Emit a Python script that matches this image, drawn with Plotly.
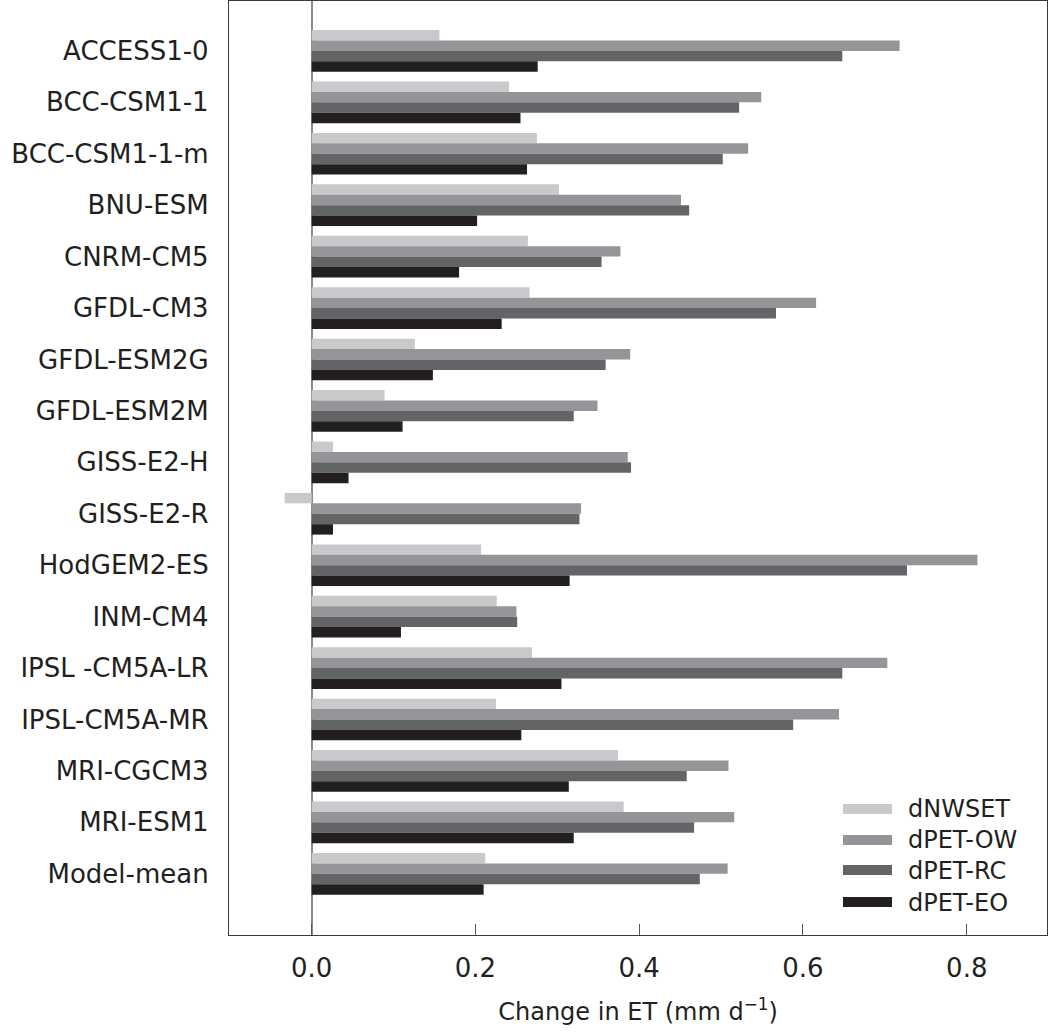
import plotly.graph_objects as go

models = ["ACCESS1-0", "BCC-CSM1-1", "BCC-CSM1-1-m", "BNU-ESM", "CNRM-CM5", "GFDL-CM3",
          "GFDL-ESM2G", "GFDL-ESM2M", "GISS-E2-H", "GISS-E2-R", "HodGEM2-ES", "INM-CM4",
          "IPSL -CM5A-LR", "IPSL-CM5A-MR", "MRI-CGCM3", "MRI-ESM1", "Model-mean"]

dNWSET = [0.156, 0.241, 0.275, 0.302, 0.264, 0.266, 0.126, 0.089, 0.026, -0.033,
          0.207, 0.226, 0.269, 0.225, 0.374, 0.381, 0.212]
dPET_OW = [0.718, 0.549, 0.533, 0.451, 0.377, 0.616, 0.389, 0.349, 0.386, 0.329,
           0.813, 0.250, 0.703, 0.644, 0.509, 0.516, 0.508]
dPET_RC = [0.648, 0.522, 0.502, 0.461, 0.354, 0.567, 0.359, 0.320, 0.390, 0.327,
           0.727, 0.251, 0.648, 0.588, 0.458, 0.467, 0.474]
dPET_EO = [0.276, 0.255, 0.263, 0.202, 0.180, 0.232, 0.148, 0.111, 0.045, 0.026,
           0.315, 0.109, 0.305, 0.256, 0.314, 0.320, 0.210]

series_names = ["dNWSET", "dPET-OW", "dPET-RC", "dPET-EO"]
series_vals = [dNWSET, dPET_OW, dPET_RC, dPET_EO]
colors = ["#c8c9cb", "#939598", "#636466", "#231f20"]

x_ticks = [0.0, 0.2, 0.4, 0.6, 0.8]
x_ticklabels = ["0.0", "0.2", "0.4", "0.6", "0.8"]

FONT = "DejaVu Sans"
TXT = "#231f20"

fig = go.Figure()
for name, vals, col in zip(series_names, series_vals, colors):
    fig.add_trace(go.Bar(
        y=models, x=vals, name=name, orientation="h",
        marker=dict(color=col, line=dict(width=0)),
        showlegend=False,
    ))

fig.update_layout(
    width=1050, height=1033,
    margin=dict(l=229, r=3, t=1, b=98),
    paper_bgcolor="white", plot_bgcolor="white",
    barmode="group", bargap=0.19, bargroupgap=0,
    font=dict(family=FONT, size=25, color=TXT),
)

fig.update_xaxes(
    range=[-0.101, 0.898],
    tickvals=x_ticks, ticktext=x_ticklabels,
    ticks="inside", ticklen=11, tickwidth=1.2, tickcolor="#555555",
    showgrid=False, zeroline=True, zerolinecolor="#8a8a8a", zerolinewidth=1.5,
    showline=True, linecolor="#3a3a3a", linewidth=1.3, mirror=True,
    tickfont=dict(family=FONT, size=26, color=TXT),
    ticklabelstandoff=10,
    title=dict(text="Change in ET (mm d<sup>−1</sup>)", font=dict(family=FONT, size=24, color=TXT), standoff=20),
)

fig.update_yaxes(
    type="category", categoryorder="array", categoryarray=models,
    range=[17.19, -0.97],
    showgrid=False, ticks="",
    showline=True, linecolor="#3a3a3a", linewidth=1.3, mirror=True,
    tickfont=dict(family=FONT, size=26, color=TXT),
    ticklabelstandoff=14,
)

# legend (inside, bottom right): swatches + one multi-line text block
leg_y = [809, 840, 870, 902]
for col, yy in zip(colors, leg_y):
    fig.add_shape(type="rect", xref="paper", yref="paper",
                  x0=(843 - 229) / 818, x1=(892 - 229) / 818,
                  y0=(935 - (yy + 5)) / 934, y1=(935 - (yy - 5)) / 934,
                  fillcolor=col, line=dict(width=0))
fig.add_annotation(text="<br>".join(series_names), xref="paper", yref="paper",
                   x=(906 - 229) / 818, y=(935 - 855.5) / 934,
                   xanchor="left", yanchor="middle", align="left", showarrow=False,
                   font=dict(family=FONT, size=24, color=TXT))

fig.write_html("out.html", config={"displayModeBar": False},
               post_script="document.body.style.margin='0';")
